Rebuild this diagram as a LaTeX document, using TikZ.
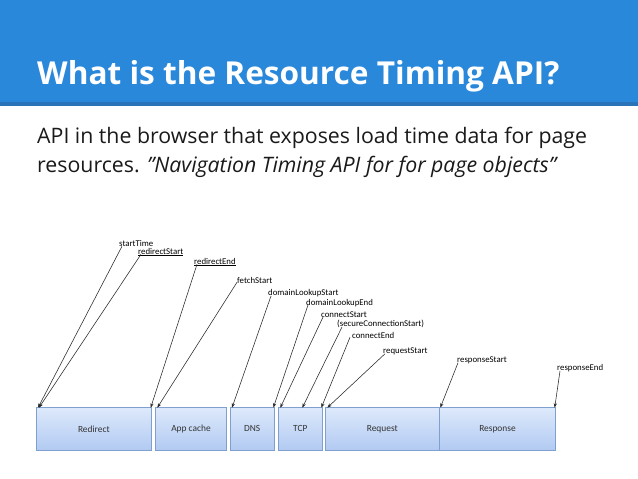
\documentclass[tikz,border=0pt]{standalone}
\usepackage{fontspec}
\setmainfont{Open Sans}
\newfontfamily\lblfont{Carlito}
\usetikzlibrary{arrows.meta,calc,shadows}
\definecolor{band}{HTML}{2A88DA}
\definecolor{bandline}{HTML}{2B73B8}
\definecolor{boxtop}{HTML}{DDE9FB}
\definecolor{boxbot}{HTML}{B2CAF2}
\definecolor{boxline}{HTML}{7F9FCF}
\definecolor{bodytext}{HTML}{1A1A1A}
\tikzset{
  phase/.style={draw=boxline, line width=0.6pt, top color=boxtop, bottom color=boxbot,
    minimum height=42.3pt, inner sep=0pt, outer sep=0pt, anchor=north west,
    font=\lblfont\fontsize{9.4}{11}\selectfont, text=black!80,
    drop shadow={shadow xshift=0pt, shadow yshift=-1.2pt, opacity=0.25}},
  lbl/.style={font=\lblfont\fontsize{8.8}{10}\selectfont, inner sep=0pt, anchor=west, text=black},
  ptr/.style={draw=black!85, line width=0.55pt, -{Stealth[length=4.5pt,width=3.2pt]}}
}
\begin{document}
\begin{tikzpicture}[x=1pt,y=-1pt]
\useasboundingbox (0,0) rectangle (638,479);
\fill[white] (0,0) rectangle (638,479);
% header band
\fill[band] (0,0) rectangle (638,102);
\fill[bandline] (0,102) rectangle (638,106);
\node[anchor=base west, inner sep=0pt, text=white, font=\bfseries\fontsize{31.6}{36}\selectfont] (title) at (37,84) {What is the Resource Timing API?};
% body text
\node[anchor=base west, inner sep=0pt, text=bodytext, font=\fontsize{21.3}{25}\selectfont] (body1) at (37,143) {API in the browser that exposes load time data for page};
\node[anchor=base west, inner sep=0pt, text=bodytext, font=\fontsize{21.3}{25}\selectfont] (body2) at (37,172) {resources. \textit{\symbol{34}Navigation Timing API for for page objects\symbol{34}}};
% phase boxes
\node[phase, minimum width=115.7pt] (redirect) at (36,407.7) {Redirect};
\node[phase, minimum width=71.4pt] (appcache) at (155.3,407.7) {App cache};
\node[phase, minimum width=44.3pt] (dns) at (230,407.7) {DNS};
\node[phase, minimum width=44pt] (tcp) at (278.3,407.7) {TCP};
\node[phase, minimum width=114pt] (request) at (325.3,407.7) {Request};
\node[phase, minimum width=116.4pt] (response) at (439.3,407.7) {Response};
% labels
\node[lbl] (l1) at (119,244) {startTime};
\node[lbl] (l2) at (138,252) {\underline{redirectStart}};
\node[lbl] (l3) at (194,262) {\underline{redirectEnd}};
\node[lbl] (l4) at (237,280) {fetchStart};
\node[lbl] (l5) at (268,293) {domainLookupStart};
\node[lbl] (l6) at (306,303) {domainLookupEnd};
\node[lbl] (l7) at (321,315) {connectStart};
\node[lbl] (l8) at (337,324) {(secureConnectionStart)};
\node[lbl] (l9) at (352,335) {connectEnd};
\node[lbl] (l10) at (383,351) {requestStart};
\node[lbl] (l11) at (457,360) {responseStart};
\node[lbl] (l12) at (557,368) {responseEnd};
% pointers
\draw[ptr] ($(l1.south west)+(3,-1)$) -- ($(redirect.north west)+(2,0)$);
\draw[ptr] ($(l2.south west)+(3,-2)$) -- ($(redirect.north west)+(3,0)$);
\draw[ptr] ($(l3.south west)+(3,-2)$) -- ($(redirect.north east)+(-1,0)$);
\draw[ptr] ($(l4.south west)+(0,-1)$) -- ($(appcache.north west)+(2,0)$);
\draw[ptr] ($(l5.south west)+(3,-1)$) -- ($(dns.north west)+(2,0)$);
\draw[ptr] ($(l6.south west)+(2,-2)$) -- ($(dns.north east)+(-1,0)$);
\draw[ptr] ($(l7.south west)+(2,-1)$) -- ($(tcp.north west)+(2,0)$);
\draw[ptr] ($(l8.south west)+(5,-1)$) -- ($(tcp.north)+(2,0)$);
\draw[ptr] ($(l9.south west)+(-2,-1)$) -- ($(tcp.north east)+(-1,0)$);
\draw[ptr] ($(l10.south west)+(2,-1)$) -- ($(request.north west)+(2,0)$);
\draw[ptr] ($(l11.south west)+(1,-1)$) -- ($(response.north west)+(1,0)$);
\draw[ptr] ($(l12.south west)+(3,-1)$) -- ($(response.north east)+(-1,0)$);
\end{tikzpicture}
\end{document}
